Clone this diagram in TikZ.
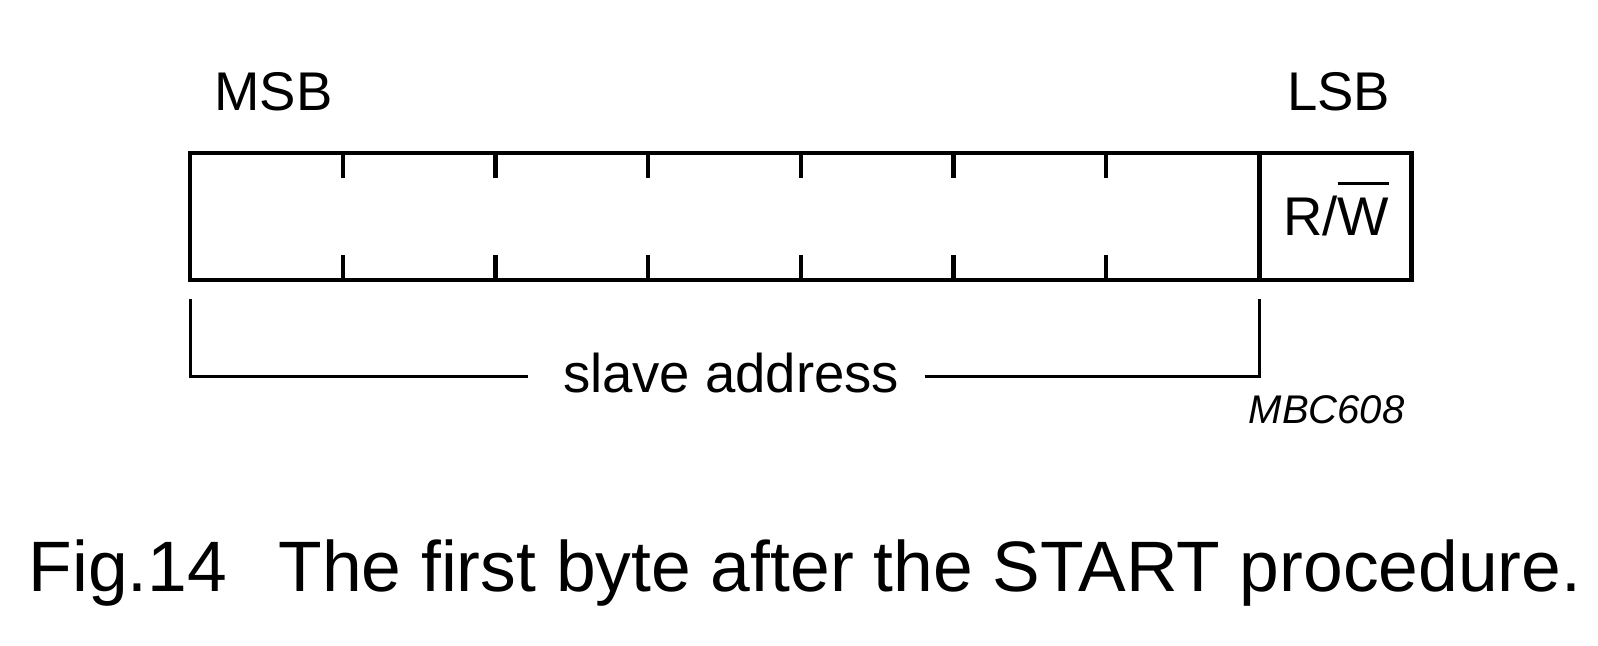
\documentclass[tikz,border=0pt]{standalone}
\usepackage{fontspec}
\setmainfont{Liberation Sans}
\newcommand{\ovW}{{\setbox0\hbox{W}\rlap{\raise25.35pt\hbox{\rule{\wd0}{1.5pt}}}\box0}}
\tikzset{
  boxline/.style={line width=2.2pt},
  brackline/.style={line width=1.5pt},
  lbl/.style={inner sep=0pt, anchor=base, font=\fontsize{27.25pt}{30pt}\selectfont},
  tag/.style={inner sep=0pt, anchor=base, font=\fontsize{20pt}{24pt}\selectfont\itshape},
  captiontext/.style={inner sep=0pt, anchor=base, font=\fontsize{35.7pt}{40pt}\selectfont}
}
\begin{document}
\begin{tikzpicture}[x=0.5pt,y=-0.5pt]
\useasboundingbox (0,0) rectangle (1598,645);
% byte box
\draw[boxline] (190,153) rectangle (1411.5,280);
\draw[boxline] (1259.6,153) -- (1259.6,280);
\foreach \i in {1,...,6}{
  \pgfmathsetmacro{\xx}{190+152.7*\i}
  \draw[boxline] (\xx,153) -- (\xx,178);
  \draw[boxline] (\xx,255) -- (\xx,280);
}
% labels
\node[lbl] (msb) at (273.4,110.7) {MSB};
\node[lbl] (lsb) at (1338.5,110.7) {LSB};
\node[lbl] (rw) at (1336,235.7) {R/\ovW};
% bracket
\coordinate (bl1) at (190,299);
\coordinate (bl2) at (190,376);
\coordinate (bl3) at (528,376);
\coordinate (br1) at (924.5,376);
\coordinate (br2) at (1259.6,376);
\coordinate (br3) at (1259.6,299);
\draw[brackline] (bl1) -- (bl2) -- (bl3);
\draw[brackline] (br1) -- (br2) -- (br3);
\node[lbl] (sa) at (731.2,392) {slave address};
\node[tag] (mbc) at (1326.5,423) {MBC608};
% caption
\node[captiontext] (caption) at (805,591.7) {Fig.14\hspace{0.72em}The first byte after the START procedure.};
\end{tikzpicture}
\end{document}
